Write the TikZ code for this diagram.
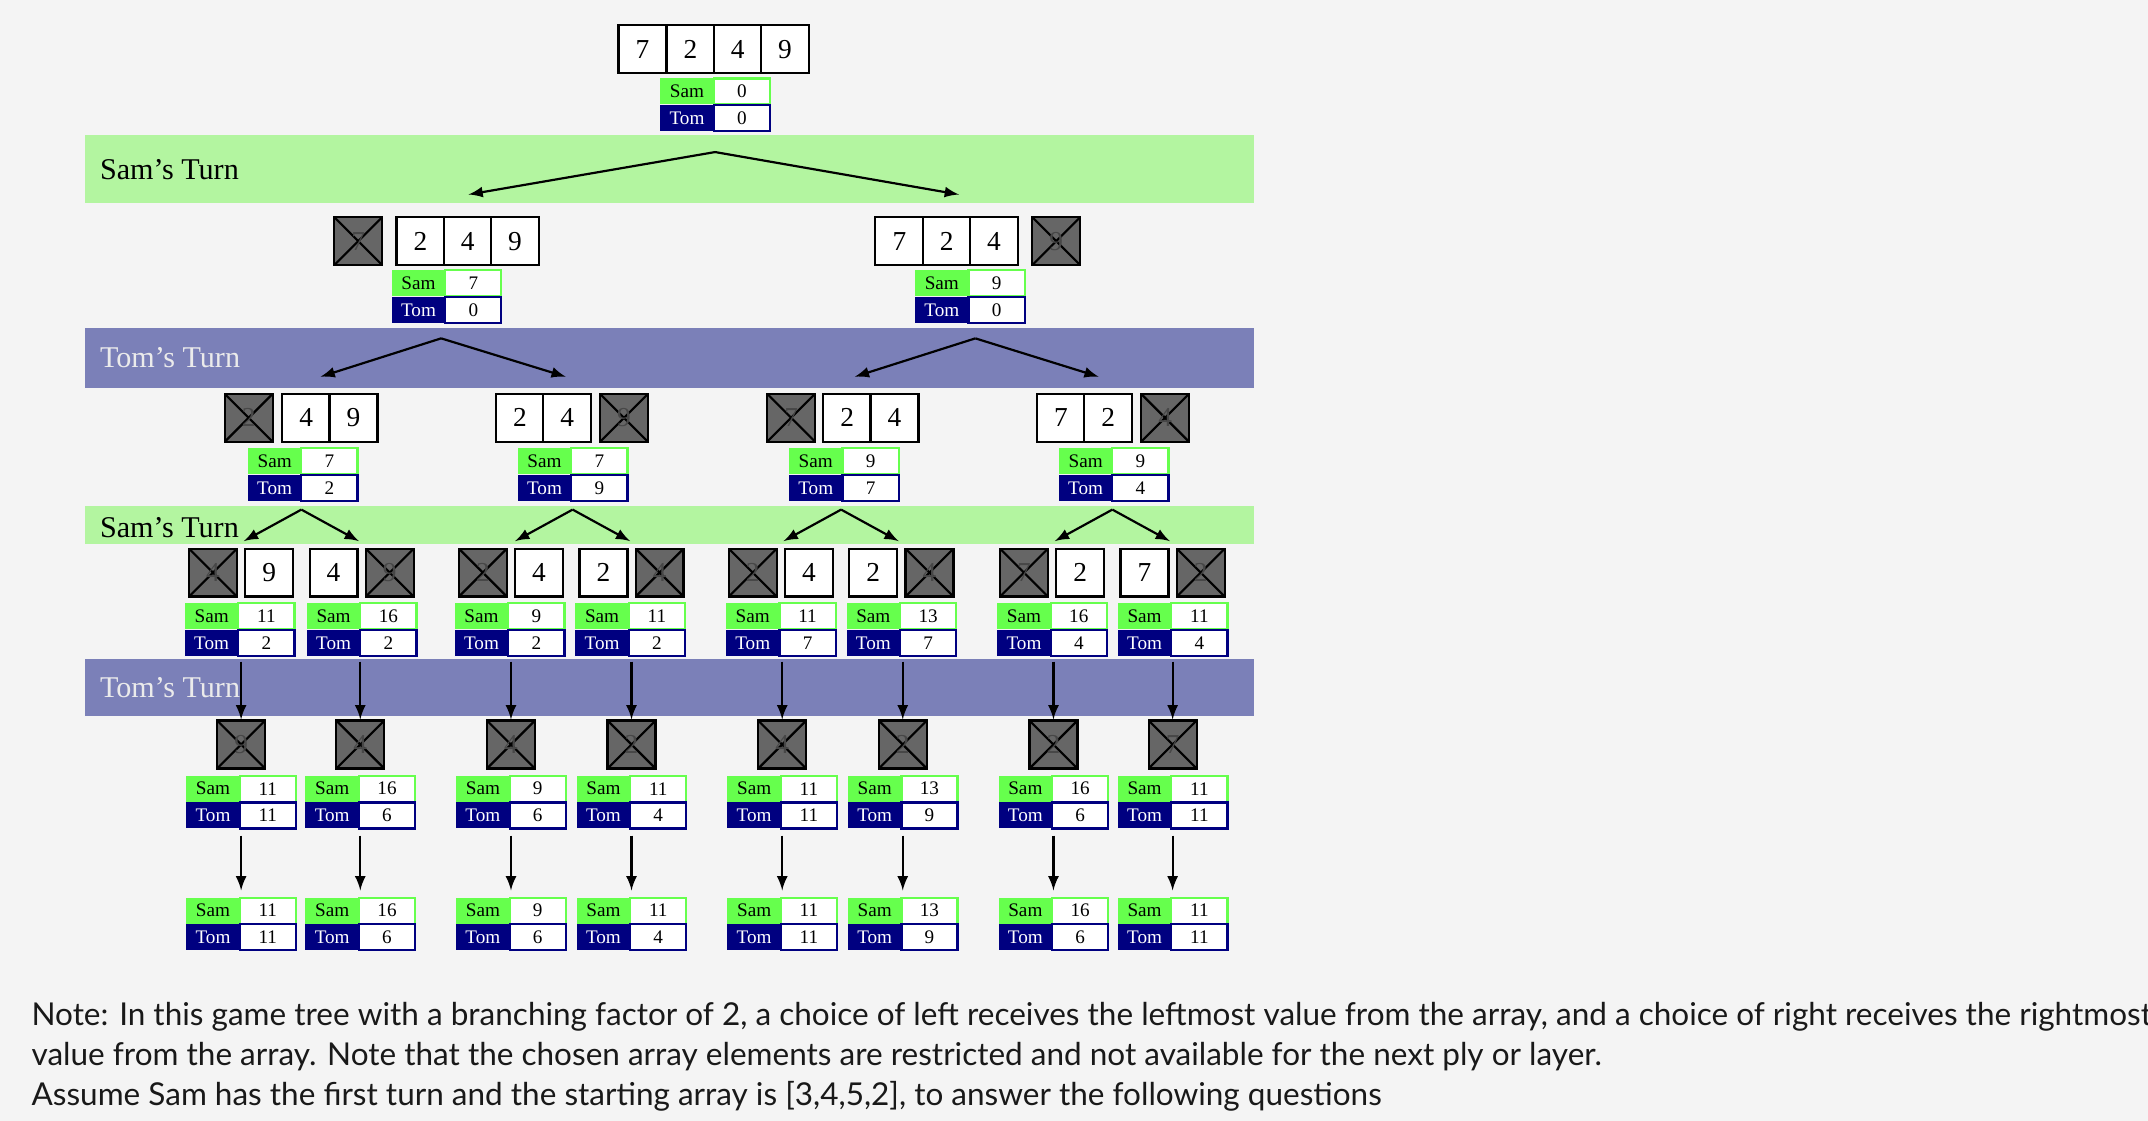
\documentclass[tikz,border=0pt]{standalone}
\usepackage{fontspec}
\setmainfont{Liberation Serif}
\newfontfamily\notef{Lato}
\begin{document}
\begin{tikzpicture}[x=0.5pt,y=-0.5pt,
 cellst/.style={draw,thick,fill=white,minimum size=17.5pt,inner sep=0pt,font=\fontsize{10}{10}\selectfont},
 xcell/.style={draw,thick,fill=black!60,minimum size=17.5pt,inner sep=0pt,text=black!72,font=\fontsize{10}{10}\selectfont,
   path picture={\draw (path picture bounding box.south west)--(path picture bounding box.north east) (path picture bounding box.north west)--(path picture bounding box.south east);}},
 lab/.style={minimum width=19.5pt,minimum height=9.5pt,inner sep=0pt,font=\fontsize{7}{7}\selectfont},
 val/.style={minimum width=20.5pt,minimum height=9.5pt,inner sep=0pt,fill=white,line width=0.8pt,font=\fontsize{7}{7}\selectfont},
 band/.style={anchor=north west,inner sep=0pt,minimum width=426.5pt},
 bandtxt/.style={anchor=west,font=\fontsize{11}{11}\selectfont},
 arr/.style={-latex,thick},
 note/.style={anchor=west,font=\notef\fontsize{11.5}{12}\selectfont,text=black!90}]
\definecolor{bg}{HTML}{F4F4F4}
\definecolor{bandg}{HTML}{B3F5A0}
\definecolor{bandp}{HTML}{7B80B8}
\definecolor{samg}{HTML}{66FF4D}
\definecolor{navy}{HTML}{000080}
\fill[bg] (0,0) rectangle (1568,818);
\useasboundingbox (0,0) rectangle (1568,818);
% macros
\newcommand\cel[4]{\node[cellst] (#1) at (#2,#3) {#4};}
\newcommand\xcel[4]{\node[xcell] (#1) at (#2,#3) {#4};}
\newcommand\scr[5]{% name, cx, ytop, sam, tom
 \node[lab,fill=samg] (#1sl) at ({#2-20.5},{#3+9.75}) {Sam};
 \node[val,draw=samg] (#1sv) at ({#2+19.5},{#3+9.75}) {#4};
 \node[lab,fill=navy,text=white] (#1tl) at ({#2-20.5},{#3+29.25}) {Tom};
 \node[val,draw=navy] (#1tv) at ({#2+19.5},{#3+29.25}) {#5};}
% bands
\node[band,fill=bandg,minimum height=25pt] (b1) at (62,98) {};
\node[bandtxt] at (66,124) {Sam's Turn};
\node[band,fill=bandp,minimum height=22pt] (b2) at (62,239) {};
\node[bandtxt,text=white!92!black] at (66,261) {Tom's Turn};
\node[band,fill=bandg,minimum height=14pt] (b3) at (62,369) {};
\node[bandtxt] at (66,385) {Sam's Turn};
\node[band,fill=bandp,minimum height=20.5pt] (b4) at (62,481) {};
\node[bandtxt,text=white!92!black] at (66,502) {Tom's Turn};
% level 0
\cel{r1}{469}{36}{7}\cel{r2}{504}{36}{2}\cel{r3}{538.5}{36}{4}\cel{r4}{573}{36}{9}
\scr{s0}{522}{57}{0}{0}
% level 1
\xcel{a0}{261.5}{176}{7}\cel{a1}{307}{176}{2}\cel{a2}{341.5}{176}{4}\cel{a3}{376}{176}{9}
\scr{s1a}{326}{197}{7}{0}
\cel{b1c}{656.5}{176}{7}\cel{b2c}{691}{176}{2}\cel{b3c}{725.5}{176}{4}\xcel{bx}{771}{176}{9}
\scr{s1b}{708}{197}{9}{0}
\coordinate (p0) at (522,111);
\coordinate (e1) at (342,142);\coordinate (e2) at (700,142);
\draw[arr] (p0)--(e1); \draw[arr] (p0)--(e2);
% level 2
\xcel{c0}{181.5}{305}{2}\cel{c1}{223.5}{305}{4}\cel{c2}{258}{305}{9}
\scr{s2a}{221}{327}{7}{2}
\cel{d1}{379.5}{305}{2}\cel{d2}{414}{305}{4}\xcel{d0}{455.5}{305}{9}
\scr{s2b}{418}{327}{7}{9}
\xcel{f0}{577.5}{305}{7}\cel{f1}{618.5}{305}{2}\cel{f2}{653}{305}{4}
\scr{s2c}{616}{327}{9}{7}
\cel{g1}{774.5}{305}{7}\cel{g2}{809}{305}{2}\xcel{g0}{850.5}{305}{4}
\scr{s2d}{813}{327}{9}{4}
\coordinate (p1) at (322,247);\coordinate (p2) at (712,247);
\coordinate (e3) at (234,275);\coordinate (e4) at (413,275);
\coordinate (e5) at (624,275);\coordinate (e6) at (802,275);
\draw[arr] (p1)--(e3); \draw[arr] (p1)--(e4);
\draw[arr] (p2)--(e5); \draw[arr] (p2)--(e6);
% level 2 -> 3 arrows
\foreach \c [count=\i] in {220,418,614,812}{
 \coordinate (q\i) at (\c,372);
 \coordinate (ql\i) at ({\c-42},395);
 \coordinate (qr\i) at ({\c+42},395);
 \draw[arr] (q\i)--(ql\i); \draw[arr] (q\i)--(qr\i);}
% level 3
\xcel{h1}{155.5}{418}{4}\cel{h2}{196.5}{418}{9}\cel{h3}{243.5}{418}{4}\xcel{h4}{284.5}{418}{9}
\xcel{h5}{352.5}{418}{2}\cel{h6}{393.5}{418}{4}\cel{h7}{440.5}{418}{2}\xcel{h8}{481.5}{418}{4}
\xcel{h9}{549.5}{418}{2}\cel{h10}{590.5}{418}{4}\cel{h11}{637.5}{418}{2}\xcel{h12}{678.5}{418}{4}
\xcel{h13}{747.5}{418}{7}\cel{h14}{788.5}{418}{2}\cel{h15}{835.5}{418}{7}\xcel{h16}{876.5}{418}{2}
\scr{t1}{175}{440}{11}{2}\scr{t2}{264}{440}{16}{2}
\scr{t3}{372}{440}{9}{2}\scr{t4}{460}{440}{11}{2}
\scr{t5}{570}{440}{11}{7}\scr{t6}{658}{440}{13}{7}
\scr{t7}{768}{440}{16}{4}\scr{t8}{856}{440}{11}{4}
% level 4
\foreach \x/\d/\s/\t/\ss/\tt [count=\i] in
 {176/9/11/2/11/11, 263/4/16/2/16/6, 373/4/9/2/9/6, 461/2/11/2/11/4,
  571/4/11/7/11/11, 659/2/13/7/13/9, 769/2/16/4/16/6, 856/7/11/4/11/11}{
 \coordinate (u\i) at (\x,483);
 \xcel{k\i}{\x}{543.5}{\d}
 \draw[arr] (u\i)--(k\i.north);
 \scr{v\i}{\x}{566}{\ss}{\tt}
 \coordinate (w\i) at (\x,610);
 \coordinate (z\i) at (\x,650);
 \draw[arr] (w\i)--(z\i);
 \scr{y\i}{\x}{655}{\ss}{\tt}
}
% note
\node[note] at (16,742) {Note: In this game tree with a branching factor of 2, a choice of left receives the leftmost value from the array, and a choice of right receives the rightmost};
\node[note] at (16,771) {value from the array. Note that the chosen array elements are restricted and not available for the next ply or layer.};
\node[note] at (16,800) {Assume Sam has the first turn and the starting array is [3,4,5,2], to answer the following questions};
\end{tikzpicture}
\end{document}
